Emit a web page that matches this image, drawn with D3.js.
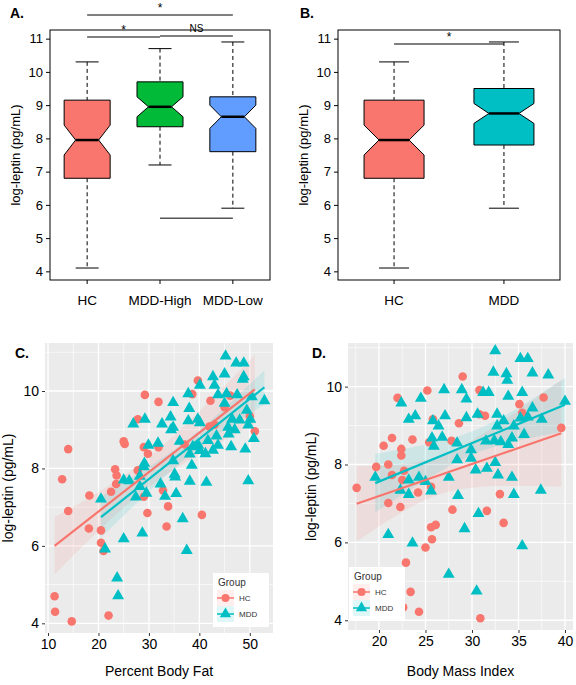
<!DOCTYPE html><html><head><script src="https://cdn.jsdelivr.net/npm/d3@7"></script>
<style>body{margin:0;background:#fff}text{font-family:Arial,"Liberation Sans",sans-serif}</style></head><body>
<svg id="c" width="576" height="685"></svg>
<script>
const boxA=[{g:"HC",lo:4.1,q1:6.8,med:7.95,q3:9.15,hi:10.3,n1:7.5,n2:8.4,col:"#F8766D"},
{g:"MDD-High",lo:7.2,q1:8.35,med:8.95,q3:9.7,hi:10.7,n1:8.65,n2:9.25,col:"#00BA38"},
{g:"MDD-Low",lo:5.9,q1:7.6,med:8.65,q3:9.25,hi:10.9,n1:8.3,n2:9.0,col:"#619CFF"}];
const boxB=[{g:"HC",lo:4.1,q1:6.8,med:7.95,q3:9.15,hi:10.3,n1:7.5,n2:8.4,col:"#F8766D"},
{g:"MDD",lo:5.9,q1:7.8,med:8.75,q3:9.5,hi:10.9,n1:8.45,n2:9.05,col:"#00BFC4"}];
const yTicksBox=[4,5,6,7,8,9,10,11];
const cHC=[[11.3,4.7],[11.4,4.3],[14.7,4.05],[22,4.2],[12.8,7.72],[14,6.9],[14,8.5],[18.2,7.3],[18.1,6.45],[20.5,6.4],[20.5,6.08],[21,5.87],[22.5,7.4],[23.3,7.98],[23.6,7.82],[23.5,7.6],[25,8.7],[25.2,8.63],[27.8,9.27],[27.8,7.95],[29,7.27],[29,8.55],[29.2,9.9],[29.8,8.38],[29.7,6.85],[31.9,9.72],[31.9,8.55],[32.8,7.43],[33.5,6.5],[33.8,7.02],[37.1,8.62],[38.6,9.92],[39.7,10.27],[40.5,6.8],[42.2,9.75],[43,9.13],[42,9.08],[45,9.58],[46.1,9.88],[50,9.35],[51,8.96]];
const cMDD=[[45.2,10.9],[47.3,10.72],[48.8,10.72],[42.7,10.37],[45,10.44],[48.8,10.37],[43,10.15],[40.1,10.15],[48.6,10.3],[37.8,9.93],[43.7,9.9],[45.4,9.93],[47.5,9.9],[50.4,9.85],[34.8,9.7],[38,9.55],[52.9,9.75],[49.4,9.5],[45,9.68],[26.9,9.15],[29.2,9.27],[32.6,9.15],[34.3,9.33],[34.4,9],[34.8,9.06],[37.8,9.23],[39.7,9.27],[40.1,9.18],[45.7,9.06],[47,9],[48,9.25],[49.7,9.12],[50.1,9.27],[46.5,9.27],[31.8,8.65],[29.9,8.6],[36.1,8.7],[39.8,8.6],[41.7,8.72],[43.4,8.84],[45.8,8.89],[38.7,8.56],[38.1,8.37],[40.1,8.46],[41.2,8.38],[42.7,8.47],[43.7,8.6],[46.3,8.56],[49.1,8.5],[50.8,8.77],[34.8,8.2],[29.1,8.13],[29,8.04],[38.5,8.08],[35.1,7.85],[35.2,7.78],[25,7.7],[26.1,7.68],[28.2,7.8],[32.3,7.6],[38.1,7.67],[41.4,7.64],[49.7,7.68],[20.5,7.21],[27.4,7.26],[28.2,7.53],[29.5,7.36],[33.2,7.28],[35.4,7.35],[25,6.18],[28.7,6.33],[36.7,6.7],[37.5,5.88],[23.7,5.17],[23.9,4.71],[21.3,5.92]];
const dHC=[[17.6,7.4],[19.7,7.94],[20.5,8.48],[21.4,8.68],[21,8],[21.4,7.73],[21,7.01],[22,9.71],[22.4,8.4],[22.4,8.23],[22.7,7.84],[22.5,7.6],[22.3,6.91],[23.6,8.64],[24.2,7.28],[25.2,9.9],[25.4,8.57],[25.6,7.43],[25.8,9.16],[25.6,6.39],[26.1,6.45],[25.7,6.08],[25,5.87],[22.9,5.48],[23.4,4.73],[22.6,4.33],[24.3,4.22],[27.9,6.84],[28.6,9.06],[27.8,8.61],[29,10.26],[30.8,9.91],[30.8,9.29],[31.4,9.25],[31.6,6.81],[33.4,6.5],[33,7.24],[35.1,9.55],[35.4,9.33],[37.7,9.72],[39.6,8.94],[30.9,4.05]];
const dMDD=[[32.5,10.92],[35.2,10.72],[36,10.72],[32.3,10.37],[33.7,10.33],[33.8,10.16],[36.5,10.35],[38.2,10.3],[27,9.92],[28.9,9.92],[29.4,9.68],[31.2,9.85],[31.8,9.85],[33.9,9.75],[35.4,9.85],[40,9.62],[22.4,9.58],[24.5,9.7],[23.2,9.16],[23.9,9.25],[25.8,9.12],[26.4,8.99],[27.1,9.25],[29.4,9.2],[30.6,9.29],[32.7,9.29],[32.7,8.99],[33.4,9.12],[34.5,8.99],[35.2,9.19],[36,9.22],[36.5,9.45],[37.5,9.16],[25.7,8.68],[25.9,8.47],[26.8,8.7],[28.4,8.55],[29.9,8.38],[31.5,8.6],[32.4,8.61],[33.1,8.58],[33.9,8.51],[34.3,8.68],[35.6,8.77],[29.9,8.16],[28.4,8.12],[30.4,7.86],[31.6,7.9],[32.5,8.05],[32.8,7.73],[34.3,7.67],[27.5,7.67],[24.3,7.67],[23.2,7.6],[25,7.56],[19.6,7.67],[22.3,7.34],[23.2,7.23],[25.6,7.32],[28.5,7.2],[34.5,7.23],[37.4,7.34],[30.7,6.74],[29.2,6.35],[21,6.2],[23.6,5.98],[35.4,5.91],[27.5,5.18],[30.5,4.75]];
const cX=[10,20,30,40,50], cY=[4,6,8,10], dX=[20,25,30,35,40], dY=[4,6,8,10];

const svg=d3.select("#c");
const T=(x,y,s,o={})=>svg.append("text").attr("x",x).attr("y",y).text(s).attr("font-size",o.fs||13).attr("text-anchor",o.a||"middle").attr("font-weight",o.w||"normal").attr("fill",o.c||"#000").attr("transform",o.r?`rotate(-90,${x},${y})`:null);

function boxPanel(data,x0,x1,label,lx,ytx){
  const y=d3.scaleLinear().domain([3.8,11.2]).range([278,32]);
  const x=d3.scaleBand().domain(data.map(d=>d.g)).range([x0,x1]).padding(0.58).paddingOuter(0.3);
  const g=svg.append("g");
  g.append("rect").attr("x",x0).attr("y",30).attr("width",x1-x0).attr("height",250).attr("fill","none").attr("stroke","#000");
  g.append("g").attr("transform",`translate(${x0},0)`).call(d3.axisLeft(y).tickValues(yTicksBox).tickSize(4).tickFormat(d3.format("d"))).call(a=>{a.select(".domain").remove();a.selectAll("text").attr("font-size",13).attr("fill","#000")});
  g.append("g").attr("transform",`translate(0,280)`).call(d3.axisBottom(x).tickSize(4)).call(a=>{a.select(".domain").remove();a.selectAll("text").attr("font-size",13.5).attr("fill","#000").attr("dy","1.3em")});
  const bw=data.length==3?46:60;
  data.forEach(d=>{
    const c=x(d.g)+x.bandwidth()/2, h=bw/2, n=h*0.5;
    g.append("line").attr("x1",c).attr("x2",c).attr("y1",y(d.hi)).attr("y2",y(d.q3)).attr("stroke","#000").attr("stroke-dasharray","4,3");
    g.append("line").attr("x1",c).attr("x2",c).attr("y1",y(d.q1)).attr("y2",y(d.lo)).attr("stroke","#000").attr("stroke-dasharray","4,3");
    [d.hi,d.lo].forEach(v=>g.append("line").attr("x1",c-h/2).attr("x2",c+h/2).attr("y1",y(v)).attr("y2",y(v)).attr("stroke","#000"));
    const p=[[c-h,y(d.q3)],[c+h,y(d.q3)],[c+h,y(d.n2)],[c+n,y(d.med)],[c+h,y(d.n1)],[c+h,y(d.q1)],[c-h,y(d.q1)],[c-h,y(d.n1)],[c-n,y(d.med)],[c-h,y(d.n2)]];
    g.append("path").attr("d","M"+p.join("L")+"Z").attr("fill",d.col).attr("stroke","#000");
    g.append("line").attr("x1",c-n).attr("x2",c+n).attr("y1",y(d.med)).attr("y2",y(d.med)).attr("stroke","#000").attr("stroke-width",2.5);
  });
  T(lx,18,label,{fs:14,w:"bold",a:"start"});
  T(ytx,155,"log-leptin (pg/mL)",{r:1,fs:13});
  return {x:(gn)=>x(gn)+x.bandwidth()/2,y};
}
function sig(x1,x2,yy,s,dy){svg.append("line").attr("x1",x1).attr("x2",x2).attr("y1",yy).attr("y2",yy).attr("stroke","#000");T((x1+x2)/2,yy-dy,s,{fs:s=="NS"?10:12});}
const A=boxPanel(boxA,50,270,"A.",10,20);
sig(A.x("HC"),A.x("MDD-Low"),15,"*",3);
sig(A.x("HC"),A.x("MDD-High"),37,"*",3);
sig(A.x("MDD-High"),A.x("MDD-Low"),36,"NS",4);
svg.append("line").attr("x1",A.x("MDD-High")).attr("x2",A.x("MDD-Low")).attr("y1",A.y(5.6)).attr("y2",A.y(5.6)).attr("stroke","#000");
const B=boxPanel(boxB,338,560,"B.",300,308);
sig(B.x("HC"),B.x("MDD"),44,"*",3);

function fit(pts){const n=pts.length,mx=d3.mean(pts,p=>p[0]),my=d3.mean(pts,p=>p[1]);
 let sxx=0,sxy=0;pts.forEach(p=>{sxx+=(p[0]-mx)**2;sxy+=(p[0]-mx)*(p[1]-my)});
 const b=sxy/sxx,a=my-b*mx;let sse=0;pts.forEach(p=>sse+=(p[1]-a-b*p[0])**2);
 const s=Math.sqrt(sse/(n-2));return {a,b,se:x=>1.99*s*Math.sqrt(1/n+(x-mx)**2/sxx),x0:d3.min(pts,p=>p[0]),x1:d3.max(pts,p=>p[0])};}

function scatter(hc,mdd,xd,yd,L,R,Tp,Bt,xt,yt,xlabel,lab,labx,leg){
  const x=d3.scaleLinear().domain(xd).range([L,R]),y=d3.scaleLinear().domain(yd).range([Bt,Tp]);
  const g=svg.append("g");
  g.append("rect").attr("x",L).attr("y",Tp).attr("width",R-L).attr("height",Bt-Tp).attr("fill","#EBEBEB");
  const xm=[],ym=[];for(let i=0;i<xt.length-1;i++)xm.push((xt[i]+xt[i+1])/2);xm.push(xt[0]-(xt[1]-xt[0])/2,xt[xt.length-1]+(xt[1]-xt[0])/2);
  for(let i=0;i<yt.length-1;i++)ym.push((yt[i]+yt[i+1])/2);ym.push(yt[yt.length-1]+1);
  xm.filter(v=>v>xd[0]&&v<xd[1]).forEach(v=>g.append("line").attr("x1",x(v)).attr("x2",x(v)).attr("y1",Tp).attr("y2",Bt).attr("stroke","#fff").attr("stroke-width",0.6));
  ym.filter(v=>v>yd[0]&&v<yd[1]).forEach(v=>g.append("line").attr("y1",y(v)).attr("y2",y(v)).attr("x1",L).attr("x2",R).attr("stroke","#fff").attr("stroke-width",0.6));
  xt.forEach(v=>g.append("line").attr("x1",x(v)).attr("x2",x(v)).attr("y1",Tp).attr("y2",Bt).attr("stroke","#fff").attr("stroke-width",1.3));
  yt.forEach(v=>g.append("line").attr("y1",y(v)).attr("y2",y(v)).attr("x1",L).attr("x2",R).attr("stroke","#fff").attr("stroke-width",1.3));
  g.append("g").attr("transform",`translate(0,${Bt})`).call(d3.axisBottom(x).tickValues(xt).tickSize(3)).call(a=>{a.select(".domain").remove();a.selectAll("line").attr("stroke","#333");a.selectAll("text").attr("font-size",14).attr("fill","#000")});
  g.append("g").attr("transform",`translate(${L},0)`).call(d3.axisLeft(y).tickValues(yt).tickSize(3)).call(a=>{a.select(".domain").remove();a.selectAll("line").attr("stroke","#333");a.selectAll("text").attr("font-size",14).attr("fill","#000")});
  const sets=[[hc,"#F8766D","c"],[mdd,"#00BFC4","t"]];
  sets.forEach(([p,col])=>{const f=fit(p);const xs=d3.range(41).map(i=>f.x0+(f.x1-f.x0)*i/40);
    const ar=d3.area().x(v=>x(v)).y0(v=>y(f.a+f.b*v-f.se(v))).y1(v=>y(f.a+f.b*v+f.se(v)));
    g.append("path").attr("d",ar(xs)).attr("fill",col).attr("opacity",0.12);});
  sets.forEach(([p,col,sh])=>p.forEach(d=>{
    if(sh=="c")g.append("circle").attr("cx",x(d[0])).attr("cy",y(d[1])).attr("r",4.3).attr("fill",col);
    else g.append("path").attr("d",d3.symbol(d3.symbolTriangle,62)()).attr("transform",`translate(${x(d[0])},${y(d[1])})`).attr("fill",col);}));
  sets.forEach(([p,col])=>{const f=fit(p);g.append("line").attr("x1",x(f.x0)).attr("x2",x(f.x1)).attr("y1",y(f.a+f.b*f.x0)).attr("y2",y(f.a+f.b*f.x1)).attr("stroke",col).attr("stroke-width",2.2);});
  T((L+R)/2,676,xlabel,{fs:14});
  T(labx,358,lab,{fs:14,w:"bold",a:"start"});
  T(L-32,(Tp+Bt)/2,"log-leptin (pg/mL)",{r:1,fs:14});
  const [lx,ly]=leg;
  g.append("rect").attr("x",lx).attr("y",ly).attr("width",56).attr("height",54).attr("fill","#fff");
  T(lx+5,ly+13,"Group",{fs:10,a:"start",c:"#333"});
  [["HC","#F8766D","c"],["MDD","#00BFC4","t"]].forEach(([n,col,sh],i)=>{const yy=ly+25+i*16;
    g.append("rect").attr("x",lx+4).attr("y",yy-8).attr("width",17).attr("height",16).attr("fill",col).attr("opacity",0.12);
    g.append("line").attr("x1",lx+4).attr("x2",lx+21).attr("y1",yy).attr("y2",yy).attr("stroke",col).attr("stroke-width",1.5);
    if(sh=="c")g.append("circle").attr("cx",lx+12.5).attr("cy",yy).attr("r",4).attr("fill",col);
    else g.append("path").attr("d",d3.symbol(d3.symbolTriangle,55)()).attr("transform",`translate(${lx+12.5},${yy})`).attr("fill",col);
    T(lx+26,yy+3,n,{fs:8,a:"start",c:"#333"});});
}
scatter(cHC,cMDD,[9.4,54.6],[3.75,11.24],45,273,343,633,cX,cY,"Percent Body Fat","C.",15,[213,573]);
scatter(dHC,dMDD,[16.67,40.86],[3.75,11.12],348,573,343,630,dX,dY,"Body Mass Index","D.",312,[349,567]);
</script></body></html>
